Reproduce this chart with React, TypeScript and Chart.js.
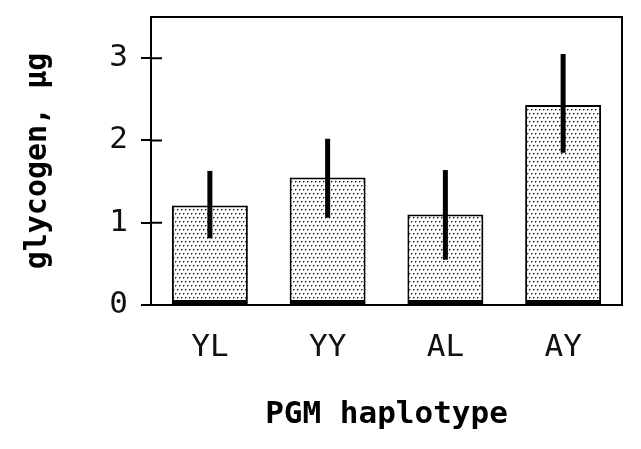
import React, { useEffect, useRef } from "react";
import { Chart, registerables } from "chart.js";

Chart.register(...registerables);

const categories = ["YL", "YY", "AL", "AY"];
const means = [1.21, 1.55, 1.1, 2.43];
const errLow = [0.81, 1.06, 0.55, 1.85];
const errHigh = [1.63, 2.02, 1.64, 3.05];
const yTickValues = [0, 1, 2, 3];
const yMin = 0;
const yMax = 3.5;
const xTitle = "PGM haplotype";
const yTitle = "glycogen, µg";

const MONO = "'DejaVu Sans Mono', monospace";

function makePattern(): CanvasPattern | string {
  const c = document.createElement("canvas");
  c.width = 8;
  c.height = 8;
  const g = c.getContext("2d");
  if (!g) return "#ddd";
  g.fillStyle = "#fff";
  g.fillRect(0, 0, 8, 8);
  g.fillStyle = "#222";
  g.fillRect(1, 1, 1, 1);
  g.fillRect(5, 1, 1, 1);
  g.fillRect(3, 5, 1, 1);
  g.fillRect(7, 5, 1, 1);
  g.fillStyle = "#888";
  g.fillRect(2, 1, 1, 1);
  g.fillRect(6, 1, 1, 1);
  g.fillRect(4, 5, 1, 1);
  g.fillRect(0, 5, 1, 1);
  g.fillRect(1, 2, 1, 1);
  g.fillRect(5, 2, 1, 1);
  g.fillRect(3, 6, 1, 1);
  g.fillRect(7, 6, 1, 1);
  const p = g.createPattern(c, "repeat");
  return p || "#ddd";
}

const framePlugin = {
  id: "frameAndErrors",
  afterDatasetsDraw(chart: any) {
    const ctx = chart.ctx;
    const y = chart.scales.y;
    const meta = chart.getDatasetMeta(0);
    ctx.save();
    ctx.strokeStyle = "#000";
    ctx.lineWidth = 5;
    ctx.lineCap = "butt";
    meta.data.forEach((el: any, i: number) => {
      ctx.beginPath();
      ctx.moveTo(el.x, y.getPixelForValue(errHigh[i]));
      ctx.lineTo(el.x, y.getPixelForValue(errLow[i]));
      ctx.stroke();
    });
    ctx.restore();
  },
  afterDraw(chart: any) {
    const ctx = chart.ctx;
    const a = chart.chartArea;
    const y = chart.scales.y;
    ctx.save();
    ctx.strokeStyle = "#000";
    ctx.lineWidth = 2;
    ctx.strokeRect(a.left, a.top, a.right - a.left, a.bottom - a.top);
    ctx.beginPath();
    yTickValues.forEach((v) => {
      const py = y.getPixelForValue(v);
      ctx.moveTo(a.left, py);
      ctx.lineTo(a.left + 11, py);
    });
    ctx.stroke();
    ctx.restore();
  },
};

export default function App() {
  const ref = useRef<HTMLCanvasElement | null>(null);
  useEffect(() => {
    document.body.style.margin = "0";
    const canvas = ref.current;
    if (!canvas) return;
    const pattern = makePattern();
    const chart = new Chart(canvas, {
      type: "bar",
      data: {
        labels: categories,
        datasets: [
          {
            data: means,
            backgroundColor: pattern as any,
            borderColor: "#000",
            borderWidth: { top: 2, left: 2, right: 2, bottom: 4 } as any,
            borderSkipped: false,
            barPercentage: 0.645,
            categoryPercentage: 1,
          },
        ],
      },
      options: {
        responsive: false,
        animation: false,
        events: [],
        layout: { padding: { left: 0, top: 17, right: 19, bottom: 0 } },
        plugins: {
          legend: { display: false },
          tooltip: { enabled: false },
          title: { display: false },
        },
        scales: {
          x: {
            grid: { display: false, drawTicks: false },
            border: { display: true, color: "#000", width: 2 },
            ticks: {
              color: "#111",
              font: { family: MONO, size: 31 },
              padding: 24,
            },
            title: {
              display: true,
              text: xTitle,
              color: "#000",
              font: { family: MONO, size: 31, weight: "bold" },
              padding: { top: 0, bottom: 15 },
            },
            afterFit: (s: any) => {
              s.height = 144;
              s.paddingLeft = 0;
              s.paddingRight = 0;
            },
          },
          y: {
            min: yMin,
            max: yMax,
            afterBuildTicks: (s: any) => {
              s.ticks = yTickValues.map((v) => ({ value: v }));
            },
            grid: {
              display: true,
              drawOnChartArea: false,
              drawTicks: true,
              tickLength: 10,
              color: "#000",
              lineWidth: 2,
            },
            border: { display: true, color: "#000", width: 2 },
            ticks: {
              color: "#111",
              font: { family: MONO, size: 31 },
              padding: 13,
            },
            title: {
              display: true,
              text: yTitle,
              color: "#000",
              font: { family: MONO, size: 30, weight: "bold" },
              padding: { top: 20, bottom: 0 },
            },
            afterFit: (s: any) => {
              s.width = 151;
              s.paddingTop = 0;
              s.paddingBottom = 0;
            },
          },
        },
      },
      plugins: [framePlugin],
    });
    return () => chart.destroy();
  }, []);
  return (
    <div style={{ width: 641, height: 449 }}>
      <canvas ref={ref} width={641} height={449} style={{ display: "block" }} />
    </div>
  );
}
